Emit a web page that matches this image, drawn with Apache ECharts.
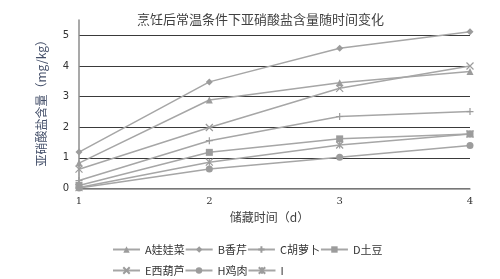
<!DOCTYPE html>
<html>
<head>
<meta charset="utf-8">
<script src="https://cdn.jsdelivr.net/npm/echarts@6/dist/echarts.min.js"></script>
<style>
  html, body { margin: 0; padding: 0; background: #fff; }
  #chart { width: 500px; height: 279px; }
</style>
</head>
<body>
<div id="chart"></div>
<script>
  // 储藏时间（d）
  var days = ['1', '2', '3', '4']
  var seriesNames = ['A娃娃菜', 'B香芹', 'C胡萝卜', 'D土豆', 'E西葫芦', 'H鸡肉', 'I']
  var aValues = [0.83, 2.89, 3.45, 3.82]
  var bValues = [1.19, 3.48, 4.58, 5.12]
  var cValues = [0.26, 1.56, 2.35, 2.51]
  var dValues = [0.1, 1.18, 1.62, 1.78]
  var eValues = [0.63, 1.99, 3.27, 4.0]
  var hValues = [0.02, 0.64, 1.02, 1.4]
  var iValues = [0.03, 0.86, 1.42, 1.78]

  var allValues = [aValues, bValues, cValues, dValues, eValues, hValues, iValues]
  var symbols = [
    'triangle',
    'diamond',
    'path://M5,0 L5,10 M0,5 L10,5',
    'rect',
    'path://M0,0 L10,10 M10,0 L0,10',
    'circle',
    'path://M0,0 L10,10 M10,0 L0,10 M5,0 L5,10'
  ]
  var lineColor = '#a6a6a6'
  var markColor = '#9c9c9c'

  var chart = echarts.init(document.getElementById('chart'))

  var series = seriesNames.map(function (name, i) {
    var isStroke = symbols[i].indexOf('path://') === 0
    return {
      name: name,
      type: 'line',
      data: allValues[i],
      symbol: symbols[i],
      symbolSize: 7,
      showAllSymbol: true,
      lineStyle: { color: lineColor, width: 1.5 },
      itemStyle: isStroke
        ? { color: 'transparent', borderColor: markColor, borderWidth: 1.2 }
        : { color: markColor, borderWidth: 0 },
      emphasis: { disabled: true },
      animation: false
    }
  })

  var legendText = {
    fontFamily: 'Noto Sans CJK SC',
    fontSize: 11,
    color: '#333',
    width: 42
  }

  chart.setOption({
    title: {
      text: '烹饪后常温条件下亚硝酸盐含量随时间变化',
      left: 132,
      top: 8,
      textStyle: {
        fontFamily: 'Noto Sans CJK SC',
        fontWeight: 'normal',
        fontSize: 13,
        color: '#404040'
      }
    },
    legend: [
      {
        data: seriesNames.slice(0, 4),
        left: 107,
        top: 239,
        itemWidth: 27,
        itemHeight: 8,
        itemGap: 0,
        textStyle: legendText
      },
      {
        data: seriesNames.slice(4),
        left: 107,
        top: 260,
        itemWidth: 27,
        itemHeight: 8,
        itemGap: 0,
        textStyle: legendText
      }
    ],
    grid: {
      left: 79,
      right: 30,
      top: 20,
      bottom: 90.5
    },
    xAxis: {
      type: 'category',
      data: days,
      boundaryGap: false,
      name: '储藏时间（d）',
      nameLocation: 'middle',
      nameGap: 23,
      nameTextStyle: {
        fontFamily: 'Noto Sans CJK SC',
        fontSize: 12,
        color: '#404040',
        padding: [0, 10, 0, 0]
      },
      axisLine: { lineStyle: { color: '#8c8c8c', width: 1.5 } },
      axisTick: { show: false },
      axisLabel: {
        margin: 8,
        fontFamily: 'DejaVu Serif',
        fontSize: 10,
        color: '#333'
      }
    },
    yAxis: {
      type: 'value',
      min: 0,
      max: 5.5,
      interval: 1,
      name: '亚硝酸盐含量（mg/kg）',
      nameLocation: 'middle',
      nameGap: 32,
      nameRotate: 90,
      nameTextStyle: {
        fontFamily: 'Noto Sans CJK SC',
        fontSize: 12,
        color: '#45506a',
        padding: [0, 0, 0, 8]
      },
      axisLine: { show: true, lineStyle: { color: '#8c8c8c', width: 1.5 } },
      axisTick: { show: false },
      axisLabel: {
        margin: 10,
        fontFamily: 'DejaVu Sans',
        fontSize: 10,
        color: '#333',
        showMaxLabel: false,
        formatter: function (v) { return v % 1 === 0 ? String(v) : '' }
      },
      splitLine: {
        show: true,
        showMaxLine: false,
        lineStyle: { color: '#3a3a3a', width: 1 }
      }
    },
    series: series
  })
</script>
</body>
</html>
